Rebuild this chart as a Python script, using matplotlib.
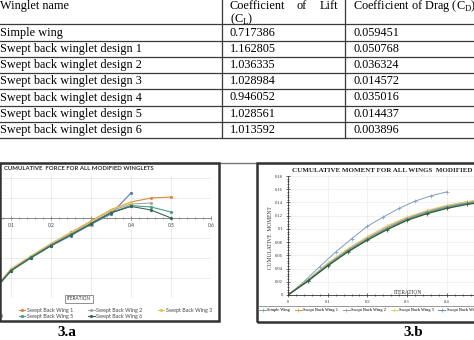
import matplotlib
matplotlib.use("Agg")
import matplotlib.pyplot as plt
from matplotlib.lines import Line2D
from matplotlib.patches import Rectangle
from matplotlib.ticker import MultipleLocator, AutoMinorLocator

# ---- table data ----
names = ["Simple wing", "Swept back winglet design 1", "Swept back winglet design 2",
         "Swept back winglet design 3", "Swept back winglet design 4",
         "Swept back winglet design 5", "Swept back winglet design 6"]
lift = ["0.717386", "1.162805", "1.036335", "1.028984", "0.946052", "1.028561", "1.013592"]
drag = ["0.059451", "0.050768", "0.036324", "0.014572", "0.035016", "0.014437", "0.003896"]

# ---- 3.a cumulative force (y axis cropped, arbitrary units) ----
force_labels = ["Simple Wing", "Swept Back Wing 1", "Swept Back Wing 2", "Swept Back Wing 3",
                "Swept Back Wing 4", "Swept Back Wing 5", "Swept Back Wing 6"]
force_x = [0.05, 0.1, 0.15, 0.2, 0.25, 0.3, 0.35, 0.4, 0.45, 0.5]
force_sw = [-0.38, -0.265, -0.2, -0.14, -0.088, -0.032, 0.02, 0.125]
force_w1 = [-0.37, -0.255, -0.19, -0.128, -0.072, -0.015, 0.042, 0.08, 0.10, 0.105]
force_w2 = [-0.375, -0.26, -0.193, -0.132, -0.076, -0.02, 0.036, 0.07, 0.075]
force_w3 = [-0.372, -0.257, -0.19, -0.13, -0.074, -0.018, 0.04, 0.08]
force_w4 = [-0.378, -0.263, -0.197, -0.137, -0.083, -0.028, 0.025, 0.06]
force_w5 = [-0.376, -0.262, -0.196, -0.136, -0.082, -0.027, 0.028, 0.062, 0.055, 0.03]
force_w6 = [-0.377, -0.263, -0.198, -0.138, -0.084, -0.029, 0.026, 0.058, 0.04, 0.0]
force_series = [force_sw, force_w1, force_w2, force_w3, force_w4, force_w5, force_w6]
force_colors = ["#5a7db5", "#d98a45", "#a6a6a6", "#eac558", "#6a9fd6", "#4f9c86", "#3d6650"]

# ---- 3.b cumulative moment ----
moment_labels = force_labels
sw_x = [0, 0.04, 0.08, 0.12, 0.16, 0.2, 0.24, 0.28, 0.32, 0.36, 0.4]
sw_moment = [0, 0.020, 0.043, 0.065, 0.085, 0.104, 0.118, 0.131, 0.142, 0.150, 0.156]
wing_x = [0, 0.05, 0.1, 0.15, 0.2, 0.25, 0.3, 0.35, 0.4, 0.45, 0.5]
w1_moment = [0, 0.023, 0.048, 0.069, 0.088, 0.104, 0.117, 0.127, 0.135, 0.141, 0.145]
w2_moment = [0, 0.022, 0.047, 0.068, 0.086, 0.102, 0.116, 0.126, 0.134, 0.140, 0.144]
w3_moment = [0, 0.023, 0.048, 0.070, 0.088, 0.105, 0.118, 0.128, 0.136, 0.141, 0.146]
w4_moment = [0, 0.022, 0.046, 0.067, 0.085, 0.101, 0.115, 0.125, 0.133, 0.139, 0.143]
w5_moment = [0, 0.021, 0.045, 0.066, 0.084, 0.100, 0.114, 0.124, 0.132, 0.138, 0.142]
w6_moment = [0, 0.021, 0.044, 0.065, 0.083, 0.099, 0.113, 0.123, 0.131, 0.137, 0.141]
moment_colors = ["#7f9dc2", "#e39a55", "#9c9c9c", "#e6cf72", "#5d8fcf", "#6aa463", "#2f5a38"]

W, H = 474, 340
fig = plt.figure(figsize=(W / 100, H / 100), dpi=100)
fig.patch.set_facecolor("white")


def fx(px):
    return px / W


def fy(py):
    return 1 - py / H


def hline(y, x0, x1, **kw):
    fig.add_artist(Line2D([fx(x0), fx(x1)], [fy(y), fy(y)], transform=fig.transFigure, **kw))


def vline(x, y0, y1, **kw):
    fig.add_artist(Line2D([fx(x), fx(x)], [fy(y0), fy(y1)], transform=fig.transFigure, **kw))


serif = "Liberation Serif"
tfs = 8.8

# ---- table ----
for y in [24, 41, 57, 73, 89, 106, 122, 138]:
    hline(y, 0, W, color="#3a3a3a", lw=0.9)
vline(222, 0, 138, color="#3a3a3a", lw=0.9)
vline(345, 0, 138, color="#3a3a3a", lw=0.9)

fig.text(fx(-0.5), fy(6), "Winglet name", family=serif, fontsize=tfs, va="center")
fig.text(fx(230), fy(6), "Coefficient", family=serif, fontsize=tfs, va="center")
fig.text(fx(302), fy(6), "of", family=serif, fontsize=tfs, va="center", ha="center")
fig.text(fx(338), fy(6), "Lift", family=serif, fontsize=tfs, va="center", ha="right")
fig.text(fx(230), fy(19.5), r"(C$_\mathregular{L}$)", family=serif, fontsize=tfs, va="center")
fig.text(fx(353), fy(6), r"Coefficient of Drag (C$_\mathregular{D}$)", family=serif,
         fontsize=tfs, va="center")
row_y = [33, 49, 65, 81, 97.5, 114, 130]
for i in range(len(names)):
    fig.text(fx(-0.5), fy(row_y[i]), names[i], family=serif, fontsize=tfs, va="center")
    fig.text(fx(230), fy(row_y[i]), lift[i], family=serif, fontsize=tfs, va="center")
    fig.text(fx(353), fy(row_y[i]), drag[i], family=serif, fontsize=tfs, va="center")

# ---- frames of the two chart snapshots ----
hline(163, 0, W, color="#777777", lw=1.0)
fig.add_artist(Rectangle((fx(0), fy(321)), fx(219), fy(163) - fy(321), transform=fig.transFigure,
                         fill=False, ec="#333333", lw=1.8, zorder=10))
fig.add_artist(Rectangle((fx(257), fy(322)), fx(230), fy(163) - fy(322), transform=fig.transFigure,
                         fill=False, ec="#333333", lw=1.8, zorder=10))

# ---- 3.a ----
ax1 = fig.add_axes([fx(0), fy(298), fx(211), fy(175) - fy(298)])
ax1.set_xlim(0.0725, 0.6)
ax1.set_ylim(-0.4, 0.215)
for s in ["top", "right", "left"]:
    ax1.spines[s].set_visible(False)
ax1.spines["bottom"].set_position(("data", 0))
ax1.spines["bottom"].set_color("#777777")
ax1.spines["bottom"].set_linewidth(0.6)
ax1.xaxis.set_major_locator(MultipleLocator(0.1))
ax1.xaxis.set_minor_locator(MultipleLocator(0.02))
ax1.yaxis.set_major_locator(MultipleLocator(0.1))
ax1.tick_params(axis="y", left=False, labelleft=False)
ax1.tick_params(axis="x", which="both", direction="inout", color="#777777", width=0.5,
                labelsize=3.6, labelcolor="#444444", pad=2)
ax1.tick_params(axis="x", which="major", length=3)
ax1.tick_params(axis="x", which="minor", length=2)
for lab in ax1.get_xticklabels():
    lab.set_family("Lato")
ax1.grid(True, color="#e4e4e4", lw=0.5)
ax1.set_axisbelow(True)
for i, ys in enumerate(force_series):
    ax1.plot(force_x[:len(ys)], ys, color=force_colors[i], lw=0.8, marker="o", ms=1.3,
             label=force_labels[i], zorder=3)

fig.text(fx(4), fy(169), "CUMULATIVE  FORCE FOR ALL MODIFIED WINGLETS", family="Lato",
         weight="bold", fontsize=4.3, color="#333333", va="center")
fig.text(fx(79), fy(299), "ITERATION", family="Lato", fontsize=3.4, color="#333333",
         ha="center", va="center",
         bbox=dict(boxstyle="square,pad=0.35", fc="white", ec="#666666", lw=0.5))

h1, l1 = ax1.get_legend_handles_labels()
order = [0, 4, 1, 5, 2, 6, 3]
leg1 = fig.legend([h1[k] for k in order], [l1[k] for k in order], ncol=4,
                  loc="upper left", bbox_to_anchor=(fx(-51), fy(308)), frameon=False,
                  prop={"family": "Lato", "size": 3.9}, handlelength=1.2,
                  handletextpad=0.3, columnspacing=2.8, labelspacing=0.1,
                  borderpad=0, borderaxespad=0)
for t in leg1.get_texts():
    t.set_color("#444444")

# ---- 3.b ----
ax2 = fig.add_axes([fx(288), fy(295), fx(W - 288), fy(176) - fy(295)])
ax2.set_xlim(0, (W - 288) / 397)
ax2.set_ylim(0, 0.18)
for s in ["top", "right"]:
    ax2.spines[s].set_visible(False)
for s in ["left", "bottom"]:
    ax2.spines[s].set_color("#333333")
    ax2.spines[s].set_linewidth(0.6)
ax2.xaxis.set_minor_locator(AutoMinorLocator(5))
ax2.yaxis.set_minor_locator(AutoMinorLocator(5))
ax2.set_xticks([0, 0.1, 0.2, 0.3, 0.4])
ax2.set_xticklabels(["0", "0.1", "0.2", "0.3", "0.4"])
ax2.set_yticks([0, 0.02, 0.04, 0.06, 0.08, 0.1, 0.12, 0.14, 0.16, 0.18])
ax2.set_yticklabels(["0", "0.02", "0.04", "0.06", "0.08", "0.1", "0.12", "0.14", "0.16", "0.18"])
ax2.tick_params(which="both", direction="inout", color="#333333", width=0.5,
                labelsize=3.3, labelcolor="#333333", pad=2)
ax2.tick_params(which="major", length=3)
ax2.tick_params(which="minor", length=2)
for lab in ax2.get_xticklabels() + ax2.get_yticklabels():
    lab.set_family(serif)
ax2.grid(True, color="#ececec", lw=0.5)
ax2.set_axisbelow(True)

ax2.plot(sw_x, sw_moment, color=moment_colors[0], lw=0.7, marker="+", ms=2.2, mew=0.5,
         label=moment_labels[0])
wing_moments = [w1_moment, w2_moment, w3_moment, w4_moment, w5_moment, w6_moment]
for i, ys in enumerate(wing_moments):
    ax2.plot(wing_x, ys, color=moment_colors[i + 1], lw=0.9 if i == 5 else 0.7, marker="+",
             ms=2.2, mew=0.5, label=moment_labels[i + 1])

fig.text(fx(271), fy(238), "CUMULATIVE  MOMENT", family=serif, fontsize=4, rotation=90,
         ha="center", va="center", color="#333333")
fig.text(fx(408), fy(292), "ITERATION", family=serif, fontsize=4, ha="center", va="center",
         color="#333333")
fig.text(fx(292), fy(170), "CUMULATIVE MOMENT FOR ALL WINGS  MODIFIED WINGLETS", family=serif,
         weight="bold", fontsize=5.0, color="#222222", va="center")
hline(306, 259, W, color="#888888", lw=0.6)
leg2 = fig.legend(ncol=7, handles=ax2.get_lines(), labels=moment_labels, loc="upper left",
                  bbox_to_anchor=(fx(259), fy(308)), frameon=False,
                  prop={"family": serif, "size": 3.2}, handlelength=1.6, handletextpad=0.3,
                  columnspacing=1.0, borderpad=0, borderaxespad=0)

# ---- captions ----
fig.text(fx(67), fy(332), "3.a", family=serif, weight="bold", fontsize=11, ha="center",
         va="center")
fig.text(fx(413), fy(332), "3.b", family=serif, weight="bold", fontsize=11, ha="center",
         va="center")

fig.savefig("out.png", dpi=100, facecolor="white")
